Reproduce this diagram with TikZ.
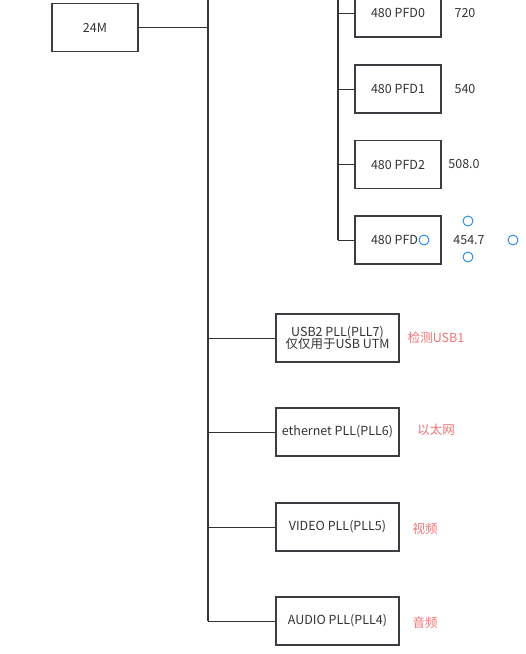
\documentclass[tikz,border=0pt]{standalone}
\usepackage{fontspec}
\setmainfont{Noto Sans CJK SC}
\definecolor{ink}{HTML}{333333}
\definecolor{boxline}{HTML}{3A3D42}
\definecolor{note}{HTML}{F07272}
\definecolor{handle}{HTML}{1E88E5}
\tikzset{
  pbox/.style={draw=boxline, line width=1.2pt, fill=white, inner sep=0pt, minimum width=86pt, minimum height=48pt, font=\fontsize{12.5}{14}\selectfont, text=ink, align=center},
  wbox/.style={pbox, minimum width=123pt},
  conn/.style={draw=ink, line width=1pt},
  val/.style={font=\fontsize{12.5}{14}\selectfont, text=ink, inner sep=0pt},
  notes/.style={font=\fontsize{12.5}{14}\selectfont, text=note, inner sep=0pt},
  hdl/.style={draw=handle, line width=0.9pt, fill=white, circle, minimum size=10pt, inner sep=0pt}
}
\begin{document}
\begin{tikzpicture}[x=1pt,y=-1pt]
\useasboundingbox (0,0) rectangle (526,654);
% main nodes
\node[pbox] (m) at (95,27.5) {24M};
\node[pbox] (p0) at (398,13) {480 PFD0};
\node[pbox] (p1) at (398,89) {480 PFD1};
\node[pbox] (p2) at (398,164.5) {480 PFD2};
\node[pbox] (p3) at (398,240) {480 PFD\phantom{3}};
\node[wbox] (usb) at (337.5,338) {USB2 PLL(PLL7)\\[-2pt]仅仅用于USB UTM};
\node[wbox] (eth) at (337.5,432) {ethernet PLL(PLL6)};
\node[wbox] (vid) at (337.5,527) {VIDEO PLL(PLL5)};
\node[wbox] (aud) at (337.5,621) {AUDIO PLL(PLL4)};
% trunk coordinates
\coordinate (ttop) at (208,0);
\coordinate (tm) at (208,27.5);
\coordinate (t1) at (208,338);
\coordinate (t2) at (208,432);
\coordinate (t3) at (208,527);
\coordinate (t4) at (208,621);
\coordinate (stop) at (338,0);
\coordinate (s0) at (338,13);
\coordinate (s1) at (338,89);
\coordinate (s2) at (338,164.5);
\coordinate (s3) at (338,240);
% connectors
\draw[conn, line width=1.6pt] (m.east) -- (tm);
\draw[conn, line width=1.3pt] (ttop) -- (t4);
\draw[conn] (t1) -- (usb.west);
\draw[conn] (t2) -- (eth.west);
\draw[conn] (t3) -- (vid.west);
\draw[conn] (t4) -- (aud.west);
\draw[conn, line width=1.3pt] (stop) -- (s3);
\draw[conn] (s0) -- (p0.west);
\draw[conn] (s1) -- (p1.west);
\draw[conn] (s2) -- (p2.west);
\draw[conn] (s3) -- (p3.west);
% values
\node[val] (v0) at (465,13) {720};
\node[val] (v1) at (465,89) {540};
\node[val] (v2) at (464,164.5) {508.0};
\node[val] (v3) at (469,240) {454.7};
% notes
\node[notes] (n1) at (436,338) {检测USB1};
\node[notes] (n2) at (436,430) {以太网};
\node[notes] (n3) at (425,529) {视频};
\node[notes] (n4) at (425,623) {音频};
% selection handles
\node[hdl] (h1) at (424,240) {};
\node[hdl] (h2) at (468,221) {};
\node[hdl] (h3) at (513,240) {};
\node[hdl] (h4) at (468,257) {};
\end{tikzpicture}
\end{document}
